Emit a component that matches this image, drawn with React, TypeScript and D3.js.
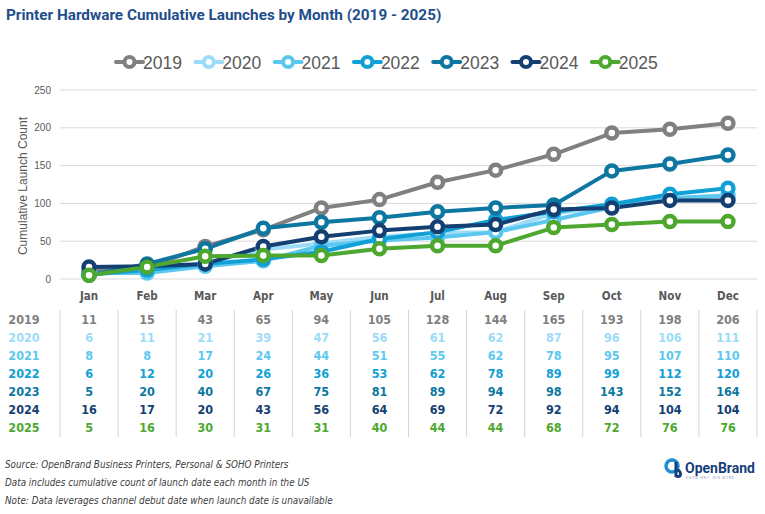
import React from "react";
import * as d3 from "d3";

const months = ["Jan", "Feb", "Mar", "Apr", "May", "Jun", "Jul", "Aug", "Sep", "Oct", "Nov", "Dec"];
const years = ["2019", "2020", "2021", "2022", "2023", "2024", "2025"];
const yearColors = ["#808080", "#9cdcf8", "#5cc8ef", "#11a0d6", "#0d77a1", "#143f73", "#4ea82f"];

const v2019 = [11, 15, 43, 65, 94, 105, 128, 144, 165, 193, 198, 206];
const v2020 = [6, 11, 21, 39, 47, 56, 61, 62, 87, 96, 106, 111];
const v2021 = [8, 8, 17, 24, 44, 51, 55, 62, 78, 95, 107, 110];
const v2022 = [6, 12, 20, 26, 36, 53, 62, 78, 89, 99, 112, 120];
const v2023 = [5, 20, 40, 67, 75, 81, 89, 94, 98, 143, 152, 164];
const v2024 = [16, 17, 20, 43, 56, 64, 69, 72, 92, 94, 104, 104];
const v2025 = [5, 16, 30, 31, 31, 40, 44, 44, 68, 72, 76, 76];
const seriesValues = [v2019, v2020, v2021, v2022, v2023, v2024, v2025];

const yTicks = [0, 50, 100, 150, 200, 250];

const footnotes = [
  "Source: OpenBrand Business Printers, Personal & SOHO Printers",
  "Data includes cumulative count of launch date each month in the US",
  "Note: Data leverages channel debut date when launch date is unavailable",
];

const W = 765;
const H = 514;

export default function App(): JSX.Element {
  const x = d3.scaleBand<string>().domain(months).range([60, 757]);
  const y = d3.scaleLinear().domain([0, 250]).range([279, 90]);
  const cx = (m: string) => (x(m) ?? 0) + x.bandwidth() / 2;

  const line = d3
    .line<number>()
    .x((_, i) => cx(months[i]))
    .y((d) => y(d));

  const condensed = "'DejaVu Sans Condensed', 'Roboto', sans-serif";
  const rowY = (i: number) => 319 + i * 18;

  const legendStart = 116;
  const legendStep = 79.3;

  return (
    <svg
      width={W}
      height={H}
      style={{ position: "absolute", left: 0, top: 0, background: "#fff" }}
      fontFamily="'Liberation Sans', Arial, sans-serif"
    >
      <text x={6} y={20} fontSize={15.3} fontWeight="bold" fill="#1f4e8c" fontFamily="Roboto, sans-serif">
        Printer Hardware Cumulative Launches by Month (2019 - 2025)
      </text>

      {/* legend */}
      {years.map((yr, i) => {
        const lx = legendStart + i * legendStep;
        return (
          <g key={yr}>
            <line x1={lx} x2={lx + 27} y1={62} y2={62} stroke={yearColors[i]} strokeWidth={4} strokeLinecap="round" />
            <circle cx={lx + 13.5} cy={62} r={5} fill="#fff" stroke={yearColors[i]} strokeWidth={4} />
            <text x={lx + 27} y={68.5} fontSize={17.5} fill="#595959">
              {yr}
            </text>
          </g>
        );
      })}

      {/* grid */}
      {yTicks.map((t) => (
        <g key={t}>
          <line x1={60} x2={757} y1={y(t)} y2={y(t)} stroke="#d9d9d9" strokeWidth={1} />
          <text x={51} y={y(t) + 3.5} fontSize={10} textAnchor="end" fill="#595959">
            {t}
          </text>
        </g>
      ))}

      <text
        transform={`translate(27,${186}) rotate(-90)`}
        textAnchor="middle"
        fontSize={12}
        fill="#595959"
      >
        Cumulative Launch Count
      </text>

      {/* lines */}
      {seriesValues.map((vals, i) => (
        <path key={years[i]} d={line(vals) ?? ""} fill="none" stroke={yearColors[i]} strokeWidth={4} strokeLinejoin="round" />
      ))}
      {seriesValues.map((vals, i) => (
        <g key={"m" + years[i]}>
          {vals.map((v, j) => (
            <circle key={j} cx={cx(months[j])} cy={y(v)} r={5.5} fill="#fff" stroke={yearColors[i]} strokeWidth={4.5} />
          ))}
        </g>
      ))}

      {/* month labels */}
      {months.map((m) => (
        <text key={m} x={cx(m)} y={300} textAnchor="middle" fontSize={11.5} fontWeight="bold" fill="#595959" fontFamily={condensed}>
          {m}
        </text>
      ))}

      {/* table */}
      {months.concat(["end"]).map((_, k) => {
        const bx = 60 + k * x.bandwidth();
        return <line key={k} x1={bx} x2={bx} y1={310} y2={437} stroke="#d0d3dc" strokeWidth={1} />;
      })}
      {years.map((yr, i) => (
        <g key={"r" + yr} fontFamily={condensed} fontWeight="bold" fontSize={12.5} fill={yearColors[i]}>
          <text x={24} y={rowY(i) + 4.5} textAnchor="middle">
            {yr}
          </text>
          {seriesValues[i].map((v, j) => (
            <text key={j} x={cx(months[j])} y={rowY(i) + 4.5} textAnchor="middle">
              {v}
            </text>
          ))}
        </g>
      ))}

      {/* footnotes */}
      {footnotes.map((f, i) => (
        <text key={i} x={5} y={468 + i * 18} fontSize={9.8} fontStyle="italic" fill="#404040" fontFamily="'Liberation Sans Narrow', 'DejaVu Sans Condensed', sans-serif">
          {f}
        </text>
      ))}

      {/* logo */}
      <g>
        <circle cx={672} cy={466} r={6} fill="none" stroke="#1d8fd6" strokeWidth={3.5} />
        <path d="M676 462 v14 a4 4 0 0 0 4 0 a4 4 0 0 0 -4 -6" fill="none" stroke="#17407a" strokeWidth={3} />
        <text x={685} y={473} fontSize={14} fontWeight="bold" fill="#17407a" fontFamily="Roboto, sans-serif">
          OpenBrand
        </text>
        <text x={686} y={479} fontSize={3} fill="#8a9bb5" letterSpacing={0.8}>
          KNOW WHY. WIN MORE.
        </text>
      </g>
    </svg>
  );
}
